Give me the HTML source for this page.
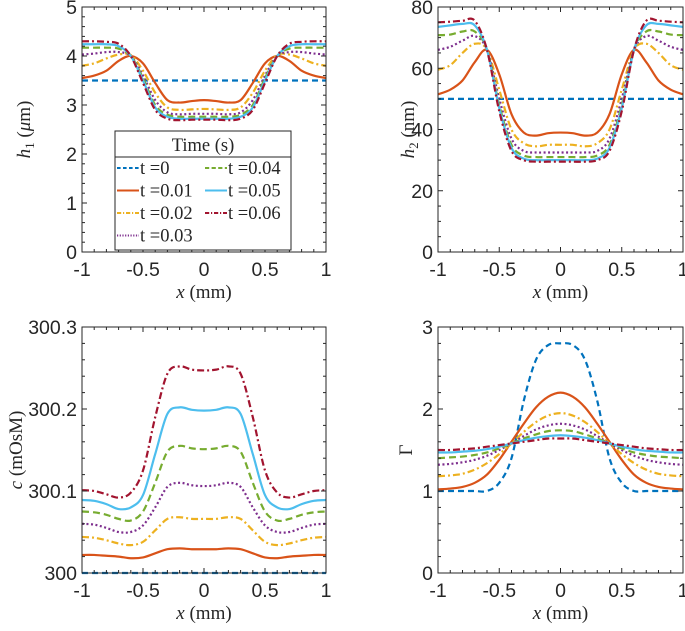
<!DOCTYPE html>
<html><head><meta charset="utf-8"><style>
body{margin:0;background:#fff;}
svg text{font-family:"Liberation Sans",sans-serif;}
.tk{font-size:19.5px;fill:#262626;}
.lab{font-family:"Liberation Serif",serif !important;font-size:19px;fill:#262626;}
.leg{font-family:"Liberation Serif",serif !important;font-size:18.5px;fill:#262626;}
</style></head><body>
<svg id="fig" width="685" height="626" viewBox="0 0 685 626" xmlns="http://www.w3.org/2000/svg"></svg>
<script>
const xs=[-1,-0.9,-0.8,-0.7,-0.6,-0.5,-0.4,-0.3,-0.2,-0.1,0,0.1,0.2,0.3,0.4,0.5,0.6,0.7,0.8,0.9,1];
const seriesNames=["t =0","t =0.01","t =0.02","t =0.03","t =0.04","t =0.05","t =0.06"];
const xTicks=[-1,-0.5,0,0.5,1];
const xTickLabels=["-1","-0.5","0","0.5","1"];
// panel 1: h1
const h1_t0=[3.5,3.5,3.5,3.5,3.5,3.5,3.5,3.5,3.5,3.5,3.5,3.5,3.5,3.5,3.5,3.5,3.5,3.5,3.5,3.5,3.5];
const h1_t1=[3.55,3.6,3.7,3.9,4.0,3.85,3.45,3.1,3.05,3.08,3.1,3.08,3.05,3.1,3.45,3.85,4.0,3.9,3.7,3.6,3.55];
const h1_t2=[3.8,3.85,3.95,4.03,4.02,3.7,3.25,2.95,2.9,2.91,2.92,2.91,2.9,2.95,3.25,3.7,4.02,4.03,3.95,3.85,3.8];
const h1_t3=[4.03,4.05,4.08,4.08,4.0,3.6,3.1,2.85,2.81,2.82,2.82,2.82,2.81,2.85,3.1,3.6,4.0,4.08,4.08,4.05,4.03];
const h1_t4=[4.17,4.17,4.17,4.15,4.0,3.55,3.0,2.8,2.76,2.76,2.76,2.76,2.76,2.8,3.0,3.55,4.0,4.15,4.17,4.17,4.17];
const h1_t5=[4.24,4.24,4.24,4.2,4.0,3.5,2.95,2.76,2.72,2.72,2.72,2.72,2.72,2.76,2.95,3.5,4.0,4.2,4.24,4.24,4.24];
const h1_t6=[4.3,4.3,4.29,4.25,4.0,3.45,2.9,2.72,2.69,2.7,2.7,2.7,2.69,2.72,2.9,3.45,4.0,4.25,4.29,4.3,4.3];
const h1Ticks=[0,1,2,3,4,5];
// panel 2: h2
const h2_t0=[50,50,50,50,50,50,50,50,50,50,50,50,50,50,50,50,50,50,50,50,50];
const h2_t1=[51.5,53,56,62,66,58,45,39,38,38.8,39,38.8,38,39,45,58,66,62,56,53,51.5];
const h2_t2=[59.5,61,65,68,66,53,40,35.5,34.5,35,35,35,34.5,35.5,40,53,66,68,65,61,59.5];
const h2_t3=[66,67,69,70.5,66,50,37,33,32.5,32.5,32.5,32.5,32.5,33,37,50,66,70.5,69,67,66];
const h2_t4=[70.8,71,72,72,66,48,35,31.5,31,31,31,31,31,31.5,35,48,66,72,72,71,70.8];
const h2_t5=[73.5,74,74.5,74,66,47,34,30.5,30,30,30,30,30,30.5,34,47,66,74,74.5,74,73.5];
const h2_t6=[75,75.2,75.5,75.5,66,46,33,30,29.5,29.5,29.5,29.5,29.5,30,33,46,66,75.5,75.5,75.2,75];
const h2Ticks=[0,20,40,60,80];
// panel 3: c
const c_t0=[300,300,300,300,300,300,300,300,300,300,300,300,300,300,300,300,300,300,300,300,300];
const c_t1=[300.022,300.022,300.021,300.020,300.018,300.019,300.024,300.029,300.030,300.029,300.029,300.029,300.030,300.029,300.024,300.019,300.018,300.020,300.021,300.022,300.022];
const c_t2=[300.044,300.043,300.040,300.036,300.034,300.038,300.052,300.066,300.068,300.066,300.066,300.066,300.068,300.066,300.052,300.038,300.034,300.036,300.040,300.043,300.044];
const c_t3=[300.060,300.059,300.055,300.050,300.050,300.058,300.080,300.105,300.110,300.107,300.106,300.107,300.110,300.105,300.080,300.058,300.050,300.050,300.055,300.059,300.060];
const c_t4=[300.075,300.074,300.071,300.066,300.064,300.075,300.110,300.148,300.155,300.152,300.151,300.152,300.155,300.148,300.110,300.075,300.064,300.066,300.071,300.074,300.075];
const c_t5=[300.089,300.088,300.084,300.078,300.080,300.095,300.145,300.194,300.202,300.199,300.198,300.199,300.202,300.194,300.145,300.095,300.080,300.078,300.084,300.088,300.089];
const c_t6=[300.101,300.100,300.096,300.092,300.098,300.125,300.190,300.243,300.252,300.248,300.247,300.248,300.252,300.243,300.190,300.125,300.098,300.092,300.096,300.100,300.101];
const cTicks=[300,300.1,300.2,300.3];
const cTickLabels=["300","300.1","300.2","300.3"];
// panel 4: Gamma
const g_t0=[1,1,1,1,1.0,1.1,1.4,2.1,2.6,2.78,2.8,2.78,2.6,2.1,1.4,1.1,1.0,1,1,1,1];
const g_t1=[1.02,1.03,1.05,1.1,1.2,1.38,1.6,1.82,2.02,2.15,2.2,2.15,2.02,1.82,1.6,1.38,1.2,1.1,1.05,1.03,1.02];
const g_t2=[1.18,1.19,1.21,1.26,1.34,1.45,1.58,1.72,1.84,1.92,1.95,1.92,1.84,1.72,1.58,1.45,1.34,1.26,1.21,1.19,1.18];
const g_t3=[1.32,1.33,1.35,1.38,1.43,1.5,1.58,1.67,1.75,1.8,1.82,1.8,1.75,1.67,1.58,1.5,1.43,1.38,1.35,1.33,1.32];
const g_t4=[1.40,1.41,1.42,1.44,1.47,1.52,1.58,1.64,1.69,1.73,1.74,1.73,1.69,1.64,1.58,1.52,1.47,1.44,1.42,1.41,1.40];
const g_t5=[1.47,1.47,1.48,1.49,1.51,1.54,1.58,1.62,1.65,1.67,1.68,1.67,1.65,1.62,1.58,1.54,1.51,1.49,1.48,1.47,1.47];
const g_t6=[1.5,1.5,1.51,1.52,1.54,1.56,1.58,1.6,1.62,1.64,1.64,1.64,1.62,1.6,1.58,1.56,1.54,1.52,1.51,1.5,1.5];
const gTicks=[0,1,2,3];

const colors=["#0072BD","#D95319","#EDB120","#7E2F8E","#77AC30","#4DBEEE","#A2142F"];
const dashes=["6,4","","7,3,2,3","2,2.5","7,4","","7,3,2,3"];
const NS="http://www.w3.org/2000/svg";
const svg=document.getElementById('fig');
function mk(tag,attrs,parent){const e=document.createElementNS(NS,tag);for(const k in attrs)e.setAttribute(k,attrs[k]);(parent||svg).appendChild(e);return e;}
function smoothPath(pts){let d="M"+pts[0][0]+","+pts[0][1];for(let i=0;i<pts.length-1;i++){const p0=pts[Math.max(i-1,0)],p1=pts[i],p2=pts[i+1],p3=pts[Math.min(i+2,pts.length-1)];
const c1=[p1[0]+(p2[0]-p0[0])/6,p1[1]+(p2[1]-p0[1])/6],c2=[p2[0]-(p3[0]-p1[0])/6,p2[1]-(p3[1]-p1[1])/6];
d+=" C"+c1[0].toFixed(2)+","+c1[1].toFixed(2)+" "+c2[0].toFixed(2)+","+c2[1].toFixed(2)+" "+p2[0].toFixed(2)+","+p2[1].toFixed(2);}return d;}

function panel(opt){
  const g=mk('g',{});
  
  
  const L=opt.L,R=opt.R,T=opt.T,B=opt.B;
  const sx=v=>L+(v+1)/2*(R-L);
  const sy=v=>B-(v-opt.ymin)/(opt.ymax-opt.ymin)*(B-T);
  mk('rect',{x:L,y:T,width:R-L,height:B-T,fill:'#fff'},g);
  const lines=mk('g',{'clip-path':'url(#'+opt.clip+')'},g);
  const cp=mk('clipPath',{id:opt.clip},g);mk('rect',{x:L,y:T-2,width:R-L,height:B-T+4},cp);
  opt.series.forEach((s,i)=>{
    const p=mk('path',{d:smoothPath(xs.map((x,j)=>[sx(x),sy(s[j])])),fill:'none',stroke:colors[i],'stroke-width':2.2,'stroke-dasharray':dashes[i]||'none'},lines);
    
    
  });
  mk('rect',{x:L,y:T,width:R-L,height:B-T,fill:'none',stroke:'#262626','stroke-width':1},g);
  for(let k=-10;k<=10;k++){const v=k/10,X=sx(v),major=k%5===0,len=major?5:3;
    mk('line',{x1:X,y1:B,x2:X,y2:B-len,stroke:'#262626'},g);mk('line',{x1:X,y1:T,x2:X,y2:T+len,stroke:'#262626'},g);}
  xTicks.forEach((v,i)=>{const t=mk('text',{x:sx(v),y:B+24,'text-anchor':'middle',class:'tk'},g);t.textContent=xTickLabels[i];
    
    });
  const yt=opt.ticks;const step=(yt[1]-yt[0])/opt.minor;
  for(let v=opt.ymin;v<=opt.ymax+1e-9;v+=step){const Y=sy(v),major=Math.abs(((v-opt.ymin)/(yt[1]-yt[0]))-Math.round((v-opt.ymin)/(yt[1]-yt[0])))<1e-6,len=major?5:3;
    mk('line',{x1:L,y1:Y,x2:L+len,y2:Y,stroke:'#262626'},g);mk('line',{x1:R,y1:Y,x2:R-len,y2:Y,stroke:'#262626'},g);}
  yt.forEach((v,i)=>{const t=mk('text',{x:L-5,y:sy(v)+7,'text-anchor':'end',class:'tk'},g);t.textContent=opt.tickLabels?opt.tickLabels[i]:String(v);
    
    });
  const xl=mk('text',{x:(L+R)/2,y:B+46,'text-anchor':'middle',class:'lab'},g);
  xl.innerHTML='<tspan font-style="italic">x</tspan> (mm)';
  
  
  const yl=mk('text',{x:0,y:0,'text-anchor':'middle',class:'lab',transform:'translate('+opt.ylx+','+((T+B)/2)+') rotate(-90)'},g);
  yl.innerHTML=opt.ylab;
  
  
  return {g,sx,sy};
}
panel({name:'h1-panel',clip:'c1',L:82,R:326,T:7,B:252,ymin:0,ymax:5,ticks:h1Ticks,minor:5,series:[h1_t0,h1_t1,h1_t2,h1_t3,h1_t4,h1_t5,h1_t6],ylx:30,ylab:'<tspan font-style="italic">h</tspan><tspan font-size="13" dy="4">1</tspan><tspan dy="-4"> (</tspan><tspan font-style="italic">μ</tspan>m)'});
panel({name:'h2-panel',clip:'c2',L:438,R:683,T:7,B:252,ymin:0,ymax:80,ticks:h2Ticks,minor:4,series:[h2_t0,h2_t1,h2_t2,h2_t3,h2_t4,h2_t5,h2_t6],ylx:414,ylab:'<tspan font-style="italic">h</tspan><tspan font-size="13" dy="4">2</tspan><tspan dy="-4"> (nm)</tspan>'});
panel({name:'c-panel',clip:'c3',L:82,R:326,T:327,B:573,ymin:300,ymax:300.3,ticks:cTicks,tickLabels:cTickLabels,minor:5,series:[c_t0,c_t1,c_t2,c_t3,c_t4,c_t5,c_t6],ylx:22,ylab:'<tspan font-style="italic">c</tspan> (mOsM)'});
panel({name:'gamma-panel',clip:'c4',L:438,R:683,T:327,B:573,ymin:0,ymax:3,ticks:gTicks,minor:5,series:[g_t0,g_t1,g_t2,g_t3,g_t4,g_t5,g_t6],ylx:412,ylab:'Γ'});

const lg=mk('g',{});


mk('rect',{x:115,y:131,width:176,height:119,fill:'#fff',stroke:'#262626','stroke-width':1},lg);
mk('line',{x1:115,y1:157,x2:291,y2:157,stroke:'#262626'},lg);
const lt=mk('text',{x:203,y:151,'text-anchor':'middle',class:'leg'},lg);lt.textContent='Time (s)';


const pos=[[0,0],[0,1],[0,2],[0,3],[1,0],[1,1],[1,2]];
seriesNames.forEach((n,i)=>{const cx=pos[i][0]?205:117,cy=168+pos[i][1]*22.5;
  const e=mk('g',{},lg);
  
  
  mk('line',{x1:cx,y1:cy,x2:cx+22,y2:cy,stroke:colors[i],'stroke-width':2,'stroke-dasharray':dashes[i]?dashes[i].split(',').map(v=>v*0.6).join(','):'none'},e);
  const t=mk('text',{x:cx+23,y:cy+6,class:'leg'},e);t.textContent=n;});
</script>
</body></html>
